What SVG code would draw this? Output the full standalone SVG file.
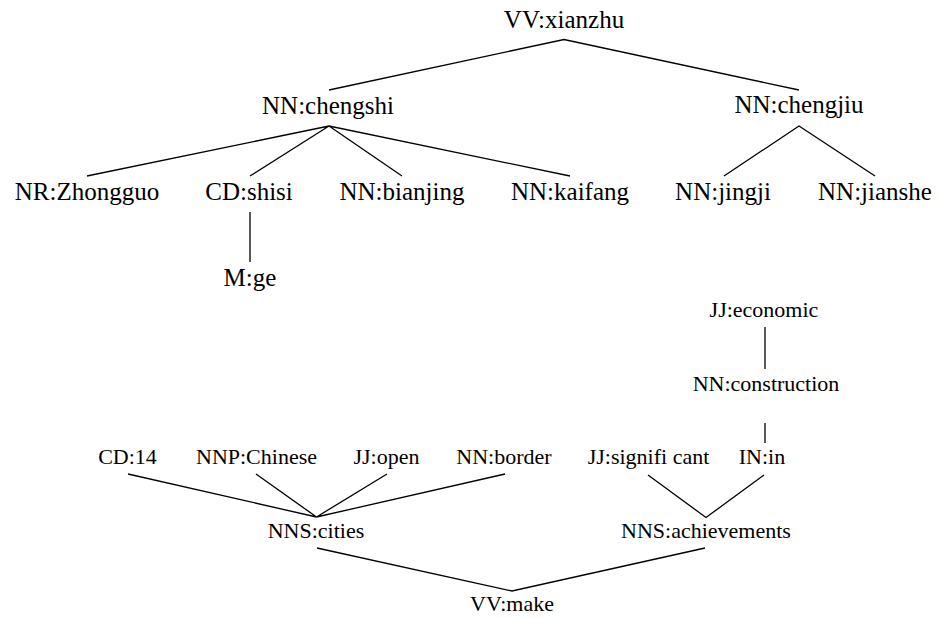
<svg xmlns="http://www.w3.org/2000/svg" width="938" height="618" viewBox="0 0 938 618">
<style>
text{font-family:'Liberation Serif','Times New Roman',Tinos,'Nimbus Roman','Nimbus Roman No9 L','DejaVu Serif',serif;fill:#000;text-anchor:middle}
.t{font-size:25px}
.b{font-size:22px}
.e{stroke:#000;stroke-width:1.3;fill:none}
</style>
<rect width="938" height="618" fill="#fff"/>
<g id="connectors">
<path class="e" d="M329,90 L564,39.5 L799,90"/>
<path class="e" d="M87,176 L329,126 L250,176 M329,126 L402,176 M329,126 L570,176"/>
<path class="e" d="M724,176 L799,126 L875,176"/>
<path class="e" d="M250,212 L250,262"/>
<path class="e" d="M765,327 L765,369"/>
<path class="e" d="M765,423 L765,443"/>
<path class="e" d="M128,474 L316.5,517 L256,474 M316.5,517 L387,474 M316.5,517 L505,474"/>
<path class="e" d="M648,475 L706,517.5 L764,475"/>
<path class="e" d="M317,548 L512,591 L705,548"/>
</g>
<g id="n-xianzhu"><text class="t" x="564" y="28" font-family="Liberation Serif, serif">VV:xianzhu</text></g>
<g id="n-chengshi"><text class="t" x="328" y="114">NN:chengshi</text></g>
<g id="n-chengjiu"><text class="t" x="799" y="113">NN:chengjiu</text></g>
<g id="n-zhongguo"><text class="t" x="87" y="200">NR:Zhongguo</text></g>
<g id="n-shisi"><text class="t" x="249" y="200">CD:shisi</text></g>
<g id="n-bianjing"><text class="t" x="402" y="200">NN:bianjing</text></g>
<g id="n-kaifang"><text class="t" x="570" y="200">NN:kaifang</text></g>
<g id="n-jingji"><text class="t" x="723" y="200">NN:jingji</text></g>
<g id="n-jianshe"><text class="t" x="875" y="200">NN:jianshe</text></g>
<g id="n-ge"><text class="t" x="250" y="286">M:ge</text></g>
<g id="n-economic"><text class="b" x="764" y="317">JJ:economic</text></g>
<g id="n-construction"><text class="b" x="766" y="391">NN:construction</text></g>
<g id="n-14"><text class="b" x="127.5" y="464">CD:14</text></g>
<g id="n-chinese"><text class="b" x="256.5" y="464">NNP:Chinese</text></g>
<g id="n-open"><text class="b" x="386.5" y="464">JJ:open</text></g>
<g id="n-border"><text class="b" x="504" y="464">NN:border</text></g>
<g id="n-significant"><text class="b" x="648.5" y="464">JJ:signifi cant</text></g>
<g id="n-in"><text class="b" x="762" y="464">IN:in</text></g>
<g id="n-cities"><text class="b" x="316" y="538">NNS:cities</text></g>
<g id="n-achievements"><text class="b" x="706" y="538">NNS:achievements</text></g>
<g id="n-make"><text class="b" x="512" y="611">VV:make</text></g>
</svg>
